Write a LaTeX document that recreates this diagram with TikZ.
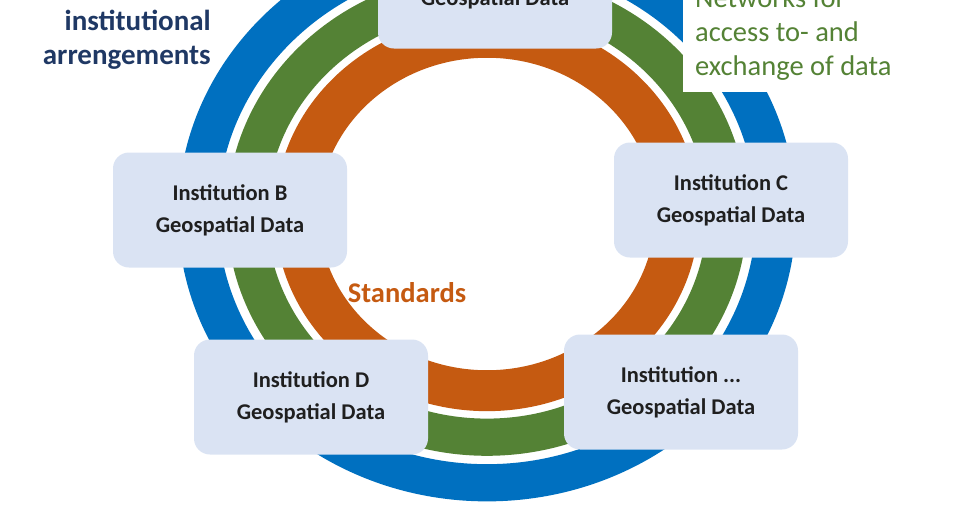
\documentclass[tikz,border=0pt]{standalone}
\usepackage{fontspec}
\setmainfont{Carlito}
\usepackage{xcolor}
\definecolor{ringblue}{RGB}{0,112,192}
\definecolor{ringgreen}{RGB}{84,130,53}
\definecolor{ringorange}{RGB}{197,90,17}
\definecolor{boxfill}{RGB}{218,227,243}
\definecolor{labelnavy}{RGB}{31,56,100}

\begin{document}
\begin{tikzpicture}[x=1pt, y=-1pt,
    inst/.style={fill=boxfill, rounded corners=16pt, minimum width=234pt, minimum height=115pt,
      align=center, text=black!88, font=\bfseries\fontsize{22.5}{32}\selectfont},
    cornerlabel/.style={fill=white}]
    \useasboundingbox (0,0) rectangle (960,520);
    \clip (0,0) rectangle (960,520);
    % the three rings, outer to inner
    \coordinate (c) at (487,214);
    \foreach \rout/\rin/\col in {309/269/ringblue, 260/220/ringgreen, 212/168/ringorange}
    \fill[\col, even odd rule] (c) ellipse [x radius=\rout, y radius=0.93*\rout]
        (c) ellipse [x radius=\rin, y radius=0.93*\rin];
    
    % institutions on the rings
    \node[inst] (instA) at (495,-9) {\mbox{}\\Geospatial Data};
    \node[inst] (instB) at (230,210) {Institution B\\Geospatial Data};
    \node[inst] (instC) at (731,200) {Institution C\\Geospatial Data};
    \node[inst] (instD) at (311,397) {Institution D\\Geospatial Data};
    \node[inst] (instE) at (681,392) {Institution ...\\Geospatial Data};
    
    % ring labels
    \node[text=ringorange, font=\bfseries\fontsize{28.5}{32}\selectfont] (std) at (407,293) {Standards};
    \node[cornerlabel, text=labelnavy, font=\bfseries\fontsize{29}{34}\selectfont, align=right,
        inner sep=0pt, anchor=east] (policy) at (211,40) {institutional\\arrengements};
    \node[cornerlabel, text=ringgreen, font=\fontsize{28.5}{34}\selectfont, align=left,
        inner sep=12pt, anchor=west] (networks) at (683,34) {Networks for\\access to- and\\exchange of data};
\end{tikzpicture}
\end{document}
